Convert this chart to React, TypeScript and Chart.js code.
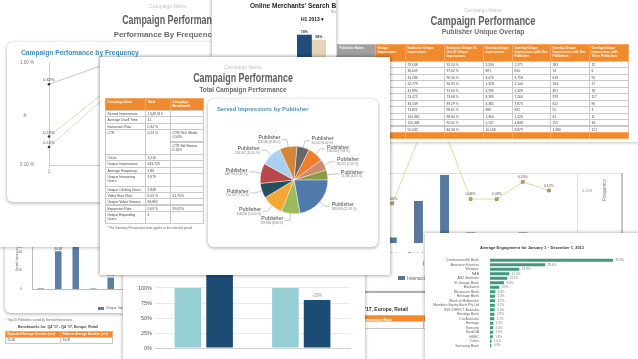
import React, { useEffect, useRef } from "react";
import { Chart, registerables } from "chart.js";

Chart.register(...registerables);
const SANS = "'Liberation Sans', Arial, Helvetica, sans-serif";
Chart.defaults.font.family = SANS;

/* ================= DATA ================= */
const pieLabels = ["Publisher", "Publisher", "Publisher", "Publisher", "Publisher", "Publisher", "Publisher", "Publisher", "Publisher", "Publisher", "Publisher"];
const pieValues = [93012, 118240, 80575, 74380, 343993, 137906, 158050, 110017, 148754, 156502, 128590];
const pieColors = ["#686868", "#f07d2e", "#cd8a6e", "#8d9c3f", "#4f7bab", "#9dbb5a", "#f6a632", "#24505d", "#b8494b", "#a9cff1", "#d3863a"];

const freqCategories = ["1", "2", "3"];
const freqRateA = [0.62, 1.4, 1.1];
const freqRateB = [0.19, 1.2, 0.9];
const freqRateC = [0.15, 1.15, 0.8];
const freqTickValues = [0.1, 1];

const comboCategories = ["Publisher", "Publisher", "Publisher", "Publisher", "Publisher", "Publisher", "Publisher", "Publisher", "Publisher", "Publisher"];
const comboInteraction = [0.42, 0.21, 0.3, 0.09, 0.68, 1.1, 0.17, 0.1, 0.17, 0.13];
const comboCtr = [0.12, 0.09, 0.1, 0.06, 0.36, 0.4, 0.08, 0.08, 0.16, 0.12];

const engCategories = ["Commonwealth Bank", "American Express", "Westpac", "NAB", "ANZ Australia", "St.George Bank", "Bankwest", "Macquarie Bank", "Heritage Bank", "Bank of Melbourne", "Members Equity Bank Pty Ltd", "ING DIRECT Australia", "Bendigo Bank", "Citi Australia", "Heritage", "Suncorp", "BankSA", "HSBC", "Coles", "Samsung Bank"];
const engValues = [78.9, 35.4, 18.8, 12.4, 11.1, 9.0, 6.0, 3.4, 3.3, 3.2, 3.1, 3.0, 2.9, 2.7, 2.1, 2.0, 1.9, 1.8, 1.0, 0.9];

const spendCategories = ["Spend", "CPC"];
const spendBenchmark = [100, 100];
const spendCampaign = [130, 80];

const topPubCategories = ["Publisher", "Publisher", "Publisher", "Publisher", "Publisher", "Publisher", "Publisher", "Publisher", "Publisher", "Publisher"];
const topPubValues = [0.6, 40.48, 61.2, 0.5, 12.3, 10.1, 9.4, 8.2, 7.7, 6.9];

const merchCategories = ["H1 2013"];
const merchShareA = [74];
const merchShareB = [58];

const summaryHeader = ["Campaign Data", "Total", "Campaign Benchmark"];
const summaryLabels = ["Served Impressions", "Average Dwell Time", "Interaction Rate", "CTR", "Clicks", "Unique Impressions", "Average Frequency", "Unique Interacting Users", "Unique Clicking Users", "Video Start Rate", "Unique Video Viewers", "Expansion Rate", "Unique Expanding Users"];
const summaryTotals = ["1,549,519", "41", "0.32 %", "0.23 %", "3,210", "643,723", "1.86", "3,979", "2,848", "6.55 %", "86,865", "0.09 %", "6"];
const summaryBench = ["", "", "", "CTR Rich Media\n0.54%|CTR Std Banner\n0.16%", "", "", "", "", "", "61.75%", "", "39.01%", ""];
const summaryLines = [1, 1, 1, 4, 1, 1, 1, 2, 1, 1, 1, 1, 2];

const overlapHeader = ["Publisher Name", "Unique Impressions", "Exclusive Unique Impressions", "Exclusive Unique % Out Of Unique Impressions", "Overlap Unique Impressions", "Overlap Unique Impressions with One Publisher", "Overlap Unique Impressions with Two Publishers", "Overlap Unique Impressions with Three Publishers"];
const overlapUnique = [31908, 37500, 47762, 24107, 46486, 31871, 40920, 74709, 107162, 125585, 65200];
const overlapExclusive = [29648, 36609, 43286, 22779, 42890, 23475, 36539, 73821, 105862, 120448, 55032];
const overlapExclusivePct = [92.14, 97.62, 90.56, 94.35, 91.6, 73.68, 89.29, 98.81, 98.8, 95.61, 84.36];
const overlapShared = [2260, 891, 4476, 1328, 3596, 8396, 4381, 888, 1300, 5137, 10168];
const overlapWithOne = [2271, 815, 3758, 1144, 3328, 7260, 3873, 832, 1226, 4848, 8879];
const overlapWithTwo = [183, 74, 619, 163, 491, 979, 612, 55, 61, 255, 1080];
const overlapWithThree = [12, 6, 95, 17, 78, 117, 96, 3, 11, 34, 121];

const benchHeaderLeft = ["Expanded Average Duration (sec)", "Rollover Average Duration (sec)"];
const benchValuesLeft = ["25.08", "24.09"];
const benchHeaderRight = ["Unique Expanding Users", "Avg. Expansion Rate", "Video Start Rate"];
const benchValuesRight = ["8", "0.31%", "6.1%"];

/* ================= HELPERS ================= */
const BASE = { responsive: false, animation: false as const, events: [] as any[] };
const NOPLUG = { legend: { display: false }, tooltip: { enabled: false } };
const fmt = (n: number) => n.toLocaleString("en-US");

function ChartBox({ x, y, w, h, make }: any) {
  const ref = useRef<HTMLCanvasElement>(null);
  useEffect(() => {
    const chart = new Chart(ref.current as HTMLCanvasElement, make());
    return () => chart.destroy();
  }, []);
  return <canvas ref={ref} width={w} height={h} style={{ position: "absolute", left: x, top: y, width: w, height: h }} />;
}

function T({ x, y, s, c = "#555", b = false, a = "l", sx = 1, rot = 0, children }: any) {
  const tx = a === "l" ? "0" : a === "c" ? "-50%" : "-100%";
  const origin = a === "l" ? "left center" : a === "c" ? "center center" : "right center";
  return (
    <div style={{ position: "absolute", left: x, top: y, fontFamily: SANS, fontSize: s, fontWeight: b ? 700 : 400, color: c, lineHeight: 1, whiteSpace: "nowrap", transform: `translate(${tx},-50%) scaleX(${sx}) rotate(${rot}deg)`, transformOrigin: origin }}>
      {children}
    </div>
  );
}

function Page({ x, y, w, h, z, children, shadow = "0 0 3px 1px rgba(0,0,0,0.25)" }: any) {
  return (
    <div style={{ position: "absolute", left: x, top: y, width: w, height: h, zIndex: z, background: "#fff", boxShadow: shadow, overflow: "hidden" }}>
      <div style={{ position: "absolute", left: -x, top: -y, width: 638, height: 359 }}>{children}</div>
    </div>
  );
}

function Card({ x, y, w, h }: any) {
  return <div style={{ position: "absolute", left: x, top: y, width: w, height: h, borderRadius: 6, background: "#fff", boxShadow: "0 1px 3px 1px rgba(0,0,0,0.22)" }} />;
}

function Cell({ x, y, w, h, bg = "#fff", color = "#444", size = 3.4, bold = false, border = "#c9c9c9", children }: any) {
  return (
    <div style={{ position: "absolute", left: x, top: y, width: w + 1, height: h + 1, boxSizing: "border-box", border: `1px solid ${border}`, background: bg, color, fontSize: size, fontWeight: bold ? 700 : 400, lineHeight: 1.25, padding: "1px 1.5px", overflow: "hidden", fontFamily: SANS, whiteSpace: "pre-line" }}>
      {children}
    </div>
  );
}

function valueLabels(id: string, o: any) {
  return {
    id,
    afterDatasetsDraw(chart: any) {
      const ctx = chart.ctx;
      const area = chart.chartArea;
      ctx.save();
      ctx.font = o.font;
      ctx.fillStyle = o.color;
      o.datasets.forEach((di: number) => {
        const meta = chart.getDatasetMeta(di);
        const vals = chart.data.datasets[di].data;
        meta.data.forEach((el: any, i: number) => {
          const txt = o.fmt(vals[i], i, chart);
          if (txt === "") return;
          if (o.horizontal) {
            ctx.textAlign = "left";
            ctx.textBaseline = "middle";
            ctx.fillText(txt, el.x + o.offset, el.y);
          } else {
            if (o.minY !== undefined && el.y < o.minY) return;
            if (o.clipTop && el.y < area.top + 0.5) return;
            ctx.textAlign = "center";
            ctx.textBaseline = "bottom";
            ctx.fillText(txt, el.x, el.y - o.offset);
          }
        });
      });
      ctx.restore();
    },
  };
}

const pieLabelPlugin = {
  id: "pieLabels",
  afterDatasetsDraw(chart: any) {
    const ctx = chart.ctx;
    const meta = chart.getDatasetMeta(0);
    const data = chart.data.datasets[0].data as number[];
    const total = data.reduce((a, b) => a + b, 0);
    ctx.save();
    meta.data.forEach((arc: any, i: number) => {
      const p = arc.getProps(["x", "y", "startAngle", "endAngle", "outerRadius"], true);
      const mid = (p.startAngle + p.endAngle) / 2;
      const dx = Math.cos(mid), dy = Math.sin(mid);
      const right = dx >= 0;
      const x0 = p.x + dx * p.outerRadius, y0 = p.y + dy * p.outerRadius;
      const x1 = p.x + dx * (p.outerRadius + 7), y1 = p.y + dy * (p.outerRadius + 7);
      const x2 = x1 + (right ? 5 : -5);
      ctx.strokeStyle = "#a0a0a0";
      ctx.lineWidth = 0.6;
      ctx.beginPath();
      ctx.moveTo(x0, y0);
      ctx.lineTo(x1, y1);
      ctx.lineTo(x2, y1);
      ctx.stroke();
      ctx.textAlign = right ? "left" : "right";
      ctx.textBaseline = "middle";
      const tx = x2 + (right ? 1.5 : -1.5);
      ctx.fillStyle = "#444";
      ctx.font = `5.3px ${SANS}`;
      ctx.fillText(String(chart.data.labels[i]), tx, y1 - 1.8);
      ctx.fillStyle = "#777";
      ctx.font = `3px ${SANS}`;
      ctx.fillText(`${fmt(data[i])} (${((data[i] / total) * 100).toFixed(2)} %)`, tx, y1 + 2.6);
    });
    ctx.restore();
  },
};

/* ================= CHART CONFIGS ================= */
const makePie = () => ({
  type: "pie",
  data: { labels: pieLabels, datasets: [{ data: pieValues, backgroundColor: pieColors, borderColor: "#ffffff", borderWidth: 0.4 }] },
  options: { ...BASE, rotation: 5, layout: { padding: { top: 16, bottom: 16 } }, plugins: NOPLUG },
  plugins: [pieLabelPlugin],
});

const makeFreq = () => ({
  type: "line",
  data: {
    labels: freqCategories,
    datasets: [
      { data: freqRateA, borderColor: "#b8b8b8", borderWidth: 0.8, pointRadius: 1.3, pointBackgroundColor: "#333", pointBorderWidth: 0 },
      { data: freqRateB, borderColor: "#e2cf98", borderWidth: 0.8, pointRadius: 1.3, pointBackgroundColor: "#333", pointBorderWidth: 0 },
      { data: freqRateC, borderColor: "#cccccc", borderWidth: 0.8, pointRadius: 1.3, pointBackgroundColor: "#333", pointBorderWidth: 0 },
    ],
  },
  options: {
    ...BASE,
    layout: { padding: { top: 23, right: 7 } },
    plugins: NOPLUG,
    scales: {
      x: { grid: { display: true, drawOnChartArea: false, tickLength: 3, color: "#cfcfcf" }, border: { color: "#cfcfcf" }, ticks: { font: { size: 4.5 }, color: "#777", padding: 1 }, afterFit: (s: any) => { s.height = 10; } },
      y: {
        type: "logarithmic", min: 0.1, max: 1,
        grid: { display: false }, border: { color: "#cfcfcf" },
        ticks: { font: { size: 4.5 }, color: "#777", padding: 7, callback: (v: any) => Number(v).toFixed(2) + " %" },
        afterBuildTicks: (s: any) => { s.ticks = freqTickValues.map((v) => ({ value: v })); },
        afterFit: (s: any) => { s.width = 39; },
      },
    },
  },
  plugins: [valueLabels("freqLbl", { datasets: [0, 1, 2], font: `4px ${SANS}`, color: "#444", offset: 2, clipTop: true, fmt: (v: number) => v.toFixed(2) + "%" })],
});

const makeCombo = () => ({
  type: "bar",
  data: {
    labels: comboCategories,
    datasets: [
      { type: "bar", label: "Interaction Rate", data: comboInteraction, backgroundColor: "#56799f", yAxisID: "y", barPercentage: 0.9, categoryPercentage: 0.38, order: 2 },
      { type: "line", label: "CTR", data: comboCtr, borderColor: "#e6d7a8", borderWidth: 1, pointStyle: "rect", pointRadius: 2, pointBackgroundColor: "#c8a66a", pointBorderColor: "#8c6d3d", pointBorderWidth: 0.6, yAxisID: "y2", order: 1 },
    ],
  },
  options: {
    ...BASE,
    layout: { padding: { top: 2, left: 11, right: 15 } },
    plugins: NOPLUG,
    scales: {
      x: { grid: { display: false }, border: { display: false }, ticks: { font: { size: 5 }, color: "#666", padding: 1, autoSkip: false, maxRotation: 0 }, afterFit: (s: any) => { s.height = 10; } },
      y: { display: false, min: 0, max: 1.946 },
      y2: { display: false, min: -0.125, max: 0.437 },
    },
  },
  plugins: [
    valueLabels("comboBar", { datasets: [0], font: `3.6px ${SANS}`, color: "#555", offset: 2, minY: 176, fmt: (v: number) => +v.toFixed(2) + "%" }),
    valueLabels("comboLine", { datasets: [1], font: `3.6px ${SANS}`, color: "#555", offset: 3, fmt: (v: number) => +v.toFixed(2) + "%" }),
  ],
});

const makeEng = () => ({
  type: "bar",
  data: { labels: engCategories, datasets: [{ data: engValues, backgroundColor: "#3f9a7d", barPercentage: 0.68, categoryPercentage: 1 }] },
  options: {
    ...BASE,
    indexAxis: "y",
    layout: { padding: { top: 3.6, bottom: 1.6, right: 15.5 } },
    plugins: NOPLUG,
    scales: {
      x: { display: false, min: 0, max: 85 },
      y: { grid: { display: false }, border: { display: false }, ticks: { font: { size: 3.5 }, color: "#666", padding: 3, autoSkip: false }, afterFit: (s: any) => { s.width = 65; } },
    },
  },
  plugins: [valueLabels("engLbl", { datasets: [0], horizontal: true, font: `3px ${SANS}`, color: "#777", offset: 2.5, fmt: (v: number) => v.toFixed(1) + "%" })],
});

const makeSpend = () => ({
  type: "bar",
  data: {
    labels: spendCategories,
    datasets: [
      { label: "Benchmark", data: spendBenchmark, backgroundColor: "#95cfd4", barPercentage: 0.84, categoryPercentage: 0.65 },
      { label: "Campaign", data: spendCampaign, backgroundColor: "#1c4b73", barPercentage: 0.84, categoryPercentage: 0.65 },
    ],
  },
  options: {
    ...BASE,
    layout: { padding: { top: 13, right: 7 } },
    plugins: NOPLUG,
    scales: {
      x: { grid: { display: false }, border: { color: "#d0d0d0" }, ticks: { font: { size: 7.5 }, color: "#555", padding: 2 }, afterFit: (s: any) => { s.height = 14; } },
      y: { min: 0, max: 125, grid: { color: "#e9e9e9", drawTicks: false }, border: { display: false }, ticks: { stepSize: 25, font: { size: 5.5 }, color: "#555", padding: 3, callback: (v: any) => (v <= 100 ? v + "%" : "") }, afterFit: (s: any) => { s.width = 30; } },
    },
  },
  plugins: [valueLabels("spendLbl", { datasets: [1], font: `4.5px ${SANS}`, color: "#999", offset: 2, clipTop: true, fmt: (v: number, i: number) => { const d = Math.round(((v - spendBenchmark[i]) / spendBenchmark[i]) * 100); return (d > 0 ? "+" : "") + d + "%"; } })],
});

const makeTopPub = () => ({
  type: "bar",
  data: { labels: topPubCategories, datasets: [{ data: topPubValues, backgroundColor: "#5a7ea6", barPercentage: 0.75, categoryPercentage: 0.5 }] },
  options: {
    ...BASE,
    layout: { padding: { top: 7, right: 8 } },
    plugins: NOPLUG,
    scales: {
      x: { grid: { display: false }, border: { color: "#bbb" }, ticks: { font: { size: 3.4 }, color: "#555", padding: 1.5, autoSkip: false, maxRotation: 0 }, afterFit: (s: any) => { s.height = 9; } },
      y: { min: 0, max: 45, grid: { display: false }, border: { color: "#bbb" }, ticks: { stepSize: 20, font: { size: 3.4 }, color: "#666", padding: 2 }, afterFit: (s: any) => { s.width = 27; } },
    },
  },
  plugins: [valueLabels("tpLbl", { datasets: [0], font: `3px ${SANS}`, color: "#444", offset: 1, clipTop: true, fmt: (v: number) => (v >= 1 ? v.toFixed(2) : "") })],
});

const makeMerch = () => ({
  type: "bar",
  data: {
    labels: merchCategories,
    datasets: [
      { data: merchShareA, backgroundColor: "#1f4e79", barPercentage: 1, categoryPercentage: 1 },
      { data: merchShareB, backgroundColor: "#e6d4b8", barPercentage: 1, categoryPercentage: 1 },
    ],
  },
  options: { ...BASE, layout: { padding: { top: 5, bottom: 4, left: 7, right: 9 } }, plugins: NOPLUG, scales: { x: { display: false }, y: { display: false, min: 0, max: 100 } } },
  plugins: [valueLabels("mLbl", { datasets: [0, 1], font: `bold 3.5px ${SANS}`, color: "#333", offset: 1, fmt: (v: number) => v + "%" })],
});

/* ================= TABLES ================= */
function SummaryTable() {
  const cols = [105, 145, 170, 203];
  const top = 98, headH = 12, lh = 6.3;
  const cells: any[] = [];
  summaryHeader.forEach((h, i) =>
    cells.push(<Cell key={"h" + i} x={cols[i]} y={top} w={cols[i + 1] - cols[i]} h={headH} bg="#f08a2c" border="#f3a867" color="#fff" bold size={3.3}>{h}</Cell>)
  );
  let y = top + headH;
  summaryLabels.forEach((lab, r) => {
    const h = summaryLines[r] * lh;
    cells.push(<Cell key={"a" + r} x={cols[0]} y={y} w={cols[1] - cols[0]} h={h}>{lab}</Cell>);
    cells.push(<Cell key={"b" + r} x={cols[1]} y={y} w={cols[2] - cols[1]} h={h}>{summaryTotals[r]}</Cell>);
    const parts = summaryBench[r].split("|");
    parts.forEach((pt, k) =>
      cells.push(<Cell key={"c" + r + "_" + k} x={cols[2]} y={y + (k * h) / parts.length} w={cols[3] - cols[2]} h={h / parts.length}>{pt}</Cell>)
    );
    y += h;
  });
  return <>{cells}</>;
}

function OverlapTable() {
  const cols = [337, 375, 405, 444, 483, 512, 550, 589, 628];
  const top = 44, headH = 17, rh = 6.45;
  const cells: any[] = [];
  overlapHeader.forEach((h, i) =>
    cells.push(<Cell key={"h" + i} x={cols[i]} y={top} w={cols[i + 1] - cols[i]} h={headH} bg={i === 0 ? "#a0a0a0" : "#f08a2c"} border={i === 0 ? "#bdbdbd" : "#f3a867"} color="#fff" bold size={3.2}>{h}</Cell>)
  );
  overlapUnique.forEach((u, r) => {
    const vals = ["Publisher", fmt(u), fmt(overlapExclusive[r]), overlapExclusivePct[r].toFixed(2) + " %", fmt(overlapShared[r]), fmt(overlapWithOne[r]), fmt(overlapWithTwo[r]), fmt(overlapWithThree[r])];
    vals.forEach((v, c) =>
      cells.push(<Cell key={r + "_" + c} x={cols[c]} y={top + headH + r * rh} w={cols[c + 1] - cols[c]} h={rh} size={3.3}>{v}</Cell>)
    );
  });
  const fy = top + headH + overlapUnique.length * rh;
  overlapHeader.forEach((_, c) =>
    cells.push(<Cell key={"f" + c} x={cols[c]} y={fy} w={cols[c + 1] - cols[c]} h={6} bg="#f08a2c" border="#f3a867"> </Cell>)
  );
  return <>{cells}</>;
}

/* ================= APP ================= */
export default function App() {
  return (
    <div style={{ position: "fixed", left: 0, top: 0, width: 638, height: 359, overflow: "hidden", background: "#fff", fontFamily: SANS }}>
      {/* bottom-left page: top publishers */}
      <Page x={-5} y={230} w={130} h={135} z={0}>
        <Card x={5} y={232} w={300} h={81} />
        <ChartBox x={5} y={240} w={210} h={58} make={makeTopPub} />
        <T x={17} y={258} s={3} c="#777" rot={-90} a="c">Served Impressions</T>
        <div style={{ position: "absolute", left: 98, top: 307, width: 6, height: 3, background: "#5a7ea6" }} />
        <T x={106} y={308.5} s={3.4} c="#666">Unique Impressions</T>
        <T x={6} y={320} s={3} c="#666">* Top 10 Publishers sorted by Served Impressions</T>
        <T x={58} y={327.5} s={3.6} b c="#444" a="c">Benchmarks for: Q4 '17 - Q4 '17, Europe, Retail</T>
        <Cell x={5} y={331} w={55} h={6} bg="#f08a2c" border="#f3a867" color="#fff" bold size={3}>{benchHeaderLeft[0]}</Cell>
        <Cell x={60} y={331} w={52} h={6} bg="#f08a2c" border="#f3a867" color="#fff" bold size={3}>{benchHeaderLeft[1]}</Cell>
        <Cell x={5} y={337} w={55} h={6} size={3}>{benchValuesLeft[0]}</Cell>
        <Cell x={60} y={337} w={52} h={6} size={3}>{benchValuesLeft[1]}</Cell>
      </Page>

      {/* frequency page */}
      <Page x={-5} y={-5} w={335} h={252} z={1}>
        <T x={168} y={6} s={5} c="#c4c4c4" a="c">Campaign Name</T>
        <T x={172} y={20} s={12} b c="#606060" a="c" sx={0.74}>Campaign Performance</T>
        <T x={165} y={35} s={7.9} b c="#6a6a6a" a="c">Performance By Frequency</T>
        <Card x={7} y={42} w={320} h={160} />
        <T x={21} y={53} s={6.7} b c="#3d8bb5">Campaign Perfomance by Frequency</T>
        <T x={25} y={115} s={5} c="#888" a="c">#</T>
        <ChartBox x={10} y={40} w={250} h={135} make={makeFreq} />
      </Page>

      {/* combo page */}
      <Page x={250} y={140} w={395} h={151} z={2} shadow="0 1px 3px 1px rgba(0,0,0,0.3)">
        <div style={{ position: "absolute", left: 300, top: 173, width: 323, height: 1, background: "#dedede" }} />
        <div style={{ position: "absolute", left: 577, top: 173, width: 1, height: 120, background: "#dedede" }} />
        <div style={{ position: "absolute", left: 621, top: 173, width: 2, height: 120, background: "#c4c4c4" }} />
        <ChartBox x={290} y={118} w={287} h={135} make={makeCombo} />
        <T x={587} y={192} s={3.6} c="#888" a="c">0.15%</T>
        <T x={605} y={190} s={4.5} c="#777" a="c" rot={-90}>Frequency</T>
        <T x={437} y={263} s={6} c="#666" a="c">(Publisher)</T>
        <div style={{ position: "absolute", left: 398, top: 276, width: 7, height: 4, background: "#56799f" }} />
        <T x={407} y={278} s={5} c="#666">Interaction Rate</T>
      </Page>

      {/* publisher unique overlap page */}
      <Page x={330} y={-5} w={315} h={147} z={3}>
        <T x={483} y={10} s={5} c="#c4c4c4" a="c">Campaign Name</T>
        <T x={483} y={21} s={12} b c="#606060" a="c" sx={0.78}>Campaign Performance</T>
        <T x={483} y={32} s={7.5} b c="#6a6a6a" a="c" sx={0.9}>Publisher Unique Overlap</T>
        <OverlapTable />
      </Page>

      {/* online merchants page */}
      <Page x={212} y={-5} w={124} h={105} z={4}>
        <T x={250} y={6} s={6.5} b c="#222">Online Merchants' Search Behavior</T>
        <T x={331} y={13} s={3.5} c="#555">% of Online Merchants</T>
        <T x={301} y={19} s={5} b c="#222">H1 2013 ▾</T>
        <ChartBox x={290} y={22} w={45} h={40} make={makeMerch} />
      </Page>

      {/* retail benchmark fragment */}
      <Page x={300} y={293} w={170} h={72} z={5}>
        <T x={408} y={309} s={5} b c="#333" a="r">Benchmarks for: Q4 '17 - Q4 '17, Europe, Retail</T>
        <Cell x={300} y={315} w={50} h={6} bg="#f08a2c" border="#f3a867" color="#fff" bold size={4}>{benchHeaderRight[0]}</Cell>
        <Cell x={350} y={315} w={73} h={6} bg="#f08a2c" border="#f3a867" color="#fff" bold size={4}>{benchHeaderRight[1]}</Cell>
        <Cell x={423} y={315} w={47} h={6} bg="#f08a2c" border="#f3a867" color="#fff" bold size={4}>{benchHeaderRight[2]}</Cell>
        <Cell x={300} y={321} w={50} h={7} size={4}>{benchValuesRight[0]}</Cell>
        <Cell x={350} y={321} w={73} h={7} size={4}>{benchValuesRight[1]}</Cell>
        <Cell x={423} y={321} w={47} h={7} size={4}>{benchValuesRight[2]}</Cell>
      </Page>

      {/* spend / cpc page */}
      <Page x={123} y={200} w={242} h={165} z={6}>
        <ChartBox x={125} y={260} w={232} h={102} make={makeSpend} />
      </Page>

      {/* central page */}
      <Page x={100} y={57} w={290} h={218} z={7} shadow="0 0 3px 1px rgba(0,0,0,0.32)">
        <T x={243} y={67} s={5} c="#c4c4c4" a="c">Campaign Name</T>
        <T x={243} y={78} s={12} b c="#5e5e5e" a="c" sx={0.74}>Campaign Performance</T>
        <T x={243} y={89} s={7} b c="#6a6a6a" a="c" sx={0.9}>Total Campaign Performance</T>
        <SummaryTable />
        <T x={107} y={228} s={3} c="#666">* The Summary Presentation data applies to the selected period</T>
        <Card x={208} y={99} w={170} h={148} />
        <T x={217} y={110} s={5.8} b c="#4a90bd">Served Impressions by Publisher</T>
        <ChartBox x={208} y={130} w={172} h={100} make={makePie} />
      </Page>

      {/* engagement page */}
      <Page x={425} y={233} w={220} h={132} z={8}>
        <T x={532} y={248} s={4.4} b c="#333" a="c" sx={0.9}>Average Engagement for January 1 – December 1, 2013</T>
        <ChartBox x={425} y={253} w={213} h={100} make={makeEng} />
      </Page>
    </div>
  );
}
